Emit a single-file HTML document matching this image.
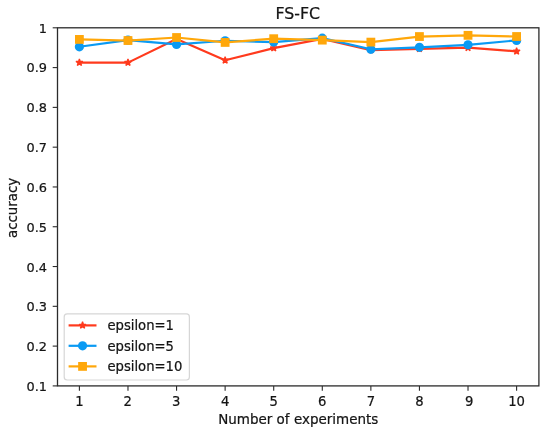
<!DOCTYPE html>
<html><head><meta charset="utf-8"><title>FS-FC</title>
<style>
html,body{margin:0;padding:0;background:#fff}
svg{display:block}
text{font-family:"DejaVu Sans","Liberation Sans",sans-serif;fill:#141414;stroke:#141414;stroke-width:0.22px}
</style></head><body>
<svg width="550" height="436" viewBox="0 0 550 436">
<rect width="550" height="436" fill="#ffffff"/>

<line x1="79.40" x2="79.40" y1="385.9" y2="390.7" stroke="#2b2b2b" stroke-width="1.1"/>
<text x="79.40" y="406.4" font-size="13.2" text-anchor="middle">1</text>
<line x1="127.98" x2="127.98" y1="385.9" y2="390.7" stroke="#2b2b2b" stroke-width="1.1"/>
<text x="127.58" y="406.4" font-size="13.2" text-anchor="middle">2</text>
<line x1="176.56" x2="176.56" y1="385.9" y2="390.7" stroke="#2b2b2b" stroke-width="1.1"/>
<text x="176.16" y="406.4" font-size="13.2" text-anchor="middle">3</text>
<line x1="225.13" x2="225.13" y1="385.9" y2="390.7" stroke="#2b2b2b" stroke-width="1.1"/>
<text x="225.13" y="406.4" font-size="13.2" text-anchor="middle">4</text>
<line x1="273.71" x2="273.71" y1="385.9" y2="390.7" stroke="#2b2b2b" stroke-width="1.1"/>
<text x="273.71" y="406.4" font-size="13.2" text-anchor="middle">5</text>
<line x1="322.29" x2="322.29" y1="385.9" y2="390.7" stroke="#2b2b2b" stroke-width="1.1"/>
<text x="322.29" y="406.4" font-size="13.2" text-anchor="middle">6</text>
<line x1="370.87" x2="370.87" y1="385.9" y2="390.7" stroke="#2b2b2b" stroke-width="1.1"/>
<text x="370.87" y="406.4" font-size="13.2" text-anchor="middle">7</text>
<line x1="419.44" x2="419.44" y1="385.9" y2="390.7" stroke="#2b2b2b" stroke-width="1.1"/>
<text x="419.44" y="406.4" font-size="13.2" text-anchor="middle">8</text>
<line x1="468.02" x2="468.02" y1="385.9" y2="390.7" stroke="#2b2b2b" stroke-width="1.1"/>
<text x="469.22" y="406.4" font-size="13.2" text-anchor="middle">9</text>
<line x1="516.60" x2="516.60" y1="385.9" y2="390.7" stroke="#2b2b2b" stroke-width="1.1"/>
<text x="516.60" y="406.4" font-size="13.2" text-anchor="middle">10</text>
<line x1="52.7" x2="57.5" y1="385.90" y2="385.90" stroke="#2b2b2b" stroke-width="1.1"/>
<text x="47.0" y="391.10" font-size="12.9" text-anchor="end">0.1</text>
<line x1="52.7" x2="57.5" y1="346.11" y2="346.11" stroke="#2b2b2b" stroke-width="1.1"/>
<text x="47.0" y="351.27" font-size="12.9" text-anchor="end">0.2</text>
<line x1="52.7" x2="57.5" y1="306.32" y2="306.32" stroke="#2b2b2b" stroke-width="1.1"/>
<text x="47.0" y="311.44" font-size="12.9" text-anchor="end">0.3</text>
<line x1="52.7" x2="57.5" y1="266.53" y2="266.53" stroke="#2b2b2b" stroke-width="1.1"/>
<text x="47.0" y="271.62" font-size="12.9" text-anchor="end">0.4</text>
<line x1="52.7" x2="57.5" y1="226.74" y2="226.74" stroke="#2b2b2b" stroke-width="1.1"/>
<text x="47.0" y="231.79" font-size="12.9" text-anchor="end">0.5</text>
<line x1="52.7" x2="57.5" y1="186.96" y2="186.96" stroke="#2b2b2b" stroke-width="1.1"/>
<text x="47.0" y="191.96" font-size="12.9" text-anchor="end">0.6</text>
<line x1="52.7" x2="57.5" y1="147.17" y2="147.17" stroke="#2b2b2b" stroke-width="1.1"/>
<text x="47.0" y="152.13" font-size="12.9" text-anchor="end">0.7</text>
<line x1="52.7" x2="57.5" y1="107.38" y2="107.38" stroke="#2b2b2b" stroke-width="1.1"/>
<text x="47.0" y="112.31" font-size="12.9" text-anchor="end">0.8</text>
<line x1="52.7" x2="57.5" y1="67.59" y2="67.59" stroke="#2b2b2b" stroke-width="1.1"/>
<text x="47.0" y="72.48" font-size="12.9" text-anchor="end">0.9</text>
<line x1="52.7" x2="57.5" y1="27.80" y2="27.80" stroke="#2b2b2b" stroke-width="1.1"/>
<text x="47.0" y="32.65" font-size="12.9" text-anchor="end">1</text>
<polyline points="79.40,62.62 127.98,62.62 176.56,38.94 225.13,60.23 273.71,48.09 322.29,38.94 370.87,50.08 419.44,48.89 468.02,47.69 516.60,51.28" fill="none" stroke="#ff3a1d" stroke-width="2.2" stroke-linejoin="round"/>
<polygon points="79.40,59.02 80.21,61.50 82.82,61.50 80.71,63.04 81.52,65.53 79.40,63.99 77.28,65.53 78.09,63.04 75.98,61.50 78.59,61.50" fill="#ff3a1d" stroke="#ff3a1d" stroke-width="1.3" stroke-linejoin="bevel"/>
<polygon points="127.98,59.02 128.79,61.50 131.40,61.50 129.29,63.04 130.09,65.53 127.98,63.99 125.86,65.53 126.67,63.04 124.55,61.50 127.17,61.50" fill="#ff3a1d" stroke="#ff3a1d" stroke-width="1.3" stroke-linejoin="bevel"/>
<polygon points="176.56,35.34 177.36,37.83 179.98,37.83 177.86,39.37 178.67,41.85 176.56,40.32 174.44,41.85 175.25,39.37 173.13,37.83 175.75,37.83" fill="#ff3a1d" stroke="#ff3a1d" stroke-width="1.3" stroke-linejoin="bevel"/>
<polygon points="225.13,56.63 225.94,59.12 228.56,59.12 226.44,60.65 227.25,63.14 225.13,61.60 223.02,63.14 223.83,60.65 221.71,59.12 224.33,59.12" fill="#ff3a1d" stroke="#ff3a1d" stroke-width="1.3" stroke-linejoin="bevel"/>
<polygon points="273.71,44.49 274.52,46.98 277.13,46.98 275.02,48.52 275.83,51.00 273.71,49.47 271.60,51.00 272.40,48.52 270.29,46.98 272.90,46.98" fill="#ff3a1d" stroke="#ff3a1d" stroke-width="1.3" stroke-linejoin="bevel"/>
<polygon points="322.29,35.34 323.10,37.83 325.71,37.83 323.60,39.37 324.40,41.85 322.29,40.32 320.17,41.85 320.98,39.37 318.87,37.83 321.48,37.83" fill="#ff3a1d" stroke="#ff3a1d" stroke-width="1.3" stroke-linejoin="bevel"/>
<polygon points="370.87,46.48 371.67,48.97 374.29,48.97 372.17,50.51 372.98,52.99 370.87,51.46 368.75,52.99 369.56,50.51 367.44,48.97 370.06,48.97" fill="#ff3a1d" stroke="#ff3a1d" stroke-width="1.3" stroke-linejoin="bevel"/>
<polygon points="419.44,45.29 420.25,47.78 422.87,47.78 420.75,49.31 421.56,51.80 419.44,50.26 417.33,51.80 418.14,49.31 416.02,47.78 418.64,47.78" fill="#ff3a1d" stroke="#ff3a1d" stroke-width="1.3" stroke-linejoin="bevel"/>
<polygon points="468.02,44.09 468.83,46.58 471.45,46.58 469.33,48.12 470.14,50.61 468.02,49.07 465.91,50.61 466.71,48.12 464.60,46.58 467.21,46.58" fill="#ff3a1d" stroke="#ff3a1d" stroke-width="1.3" stroke-linejoin="bevel"/>
<polygon points="516.60,47.68 517.41,50.16 520.02,50.16 517.91,51.70 518.72,54.19 516.60,52.65 514.48,54.19 515.29,51.70 513.18,50.16 515.79,50.16" fill="#ff3a1d" stroke="#ff3a1d" stroke-width="1.3" stroke-linejoin="bevel"/>

<polyline points="79.40,46.78 127.98,40.21 176.56,44.39 225.13,40.73 273.71,42.12 322.29,38.15 370.87,49.29 419.44,47.30 468.02,44.83 516.60,40.41" fill="none" stroke="#0a9af3" stroke-width="2.2" stroke-linejoin="round"/>
<circle cx="79.40" cy="46.78" r="4.6000000000000005" fill="#0a9af3"/>
<circle cx="127.98" cy="40.21" r="4.6000000000000005" fill="#0a9af3"/>
<circle cx="176.56" cy="44.39" r="4.6000000000000005" fill="#0a9af3"/>
<circle cx="225.13" cy="40.73" r="4.6000000000000005" fill="#0a9af3"/>
<circle cx="273.71" cy="42.12" r="4.6000000000000005" fill="#0a9af3"/>
<circle cx="322.29" cy="38.15" r="4.6000000000000005" fill="#0a9af3"/>
<circle cx="370.87" cy="49.29" r="4.6000000000000005" fill="#0a9af3"/>
<circle cx="419.44" cy="47.30" r="4.6000000000000005" fill="#0a9af3"/>
<circle cx="468.02" cy="44.83" r="4.6000000000000005" fill="#0a9af3"/>
<circle cx="516.60" cy="40.41" r="4.6000000000000005" fill="#0a9af3"/>

<polyline points="79.40,39.42 127.98,40.53 176.56,37.51 225.13,42.44 273.71,38.70 322.29,40.13 370.87,42.12 419.44,36.55 468.02,35.32 516.60,36.51" fill="none" stroke="#ffa70a" stroke-width="2.2" stroke-linejoin="round"/>
<rect x="75.00" y="35.02" width="8.8" height="8.8" fill="#ffa70a"/>
<rect x="123.58" y="36.13" width="8.8" height="8.8" fill="#ffa70a"/>
<rect x="172.16" y="33.11" width="8.8" height="8.8" fill="#ffa70a"/>
<rect x="220.73" y="38.04" width="8.8" height="8.8" fill="#ffa70a"/>
<rect x="269.31" y="34.30" width="8.8" height="8.8" fill="#ffa70a"/>
<rect x="317.89" y="35.73" width="8.8" height="8.8" fill="#ffa70a"/>
<rect x="366.47" y="37.72" width="8.8" height="8.8" fill="#ffa70a"/>
<rect x="415.04" y="32.15" width="8.8" height="8.8" fill="#ffa70a"/>
<rect x="463.62" y="30.92" width="8.8" height="8.8" fill="#ffa70a"/>
<rect x="512.20" y="32.11" width="8.8" height="8.8" fill="#ffa70a"/>

<rect x="57.5" y="27.8" width="481.4" height="358.09999999999997" fill="none" stroke="#2b2b2b" stroke-width="1.3"/>
<text transform="translate(297.7,18.5) scale(1.03,1)" font-size="15.3" text-anchor="middle">FS-FC</text>
<text x="298.25" y="424.3" font-size="13.47" text-anchor="middle">Number of experiments</text>
<text transform="translate(17.3,207.9) rotate(-90)" font-size="13.35" text-anchor="middle">accuracy</text>
<rect x="64.2" y="313.9" width="125.2" height="66.1" rx="3" ry="3" fill="#ffffff" fill-opacity="0.8" stroke="#cccccc" stroke-opacity="0.8" stroke-width="1.2"/>
<line x1="68.6" x2="96.5" y1="325.4" y2="325.4" stroke="#ff3a1d" stroke-width="2.2"/>
<polygon points="82.55,321.80 83.36,324.29 85.97,324.29 83.86,325.82 84.67,328.31 82.55,326.78 80.43,328.31 81.24,325.82 79.13,324.29 81.74,324.29" fill="#ff3a1d" stroke="#ff3a1d" stroke-width="1.3" stroke-linejoin="bevel"/>
<text x="107.4" y="330.2" font-size="13.2">epsilon=1</text>
<line x1="68.6" x2="96.5" y1="345.8" y2="345.8" stroke="#0a9af3" stroke-width="2.2"/>
<circle cx="82.55" cy="345.80" r="4.6000000000000005" fill="#0a9af3"/>
<text x="107.4" y="350.6" font-size="13.2">epsilon=5</text>
<line x1="68.6" x2="96.5" y1="366.4" y2="366.4" stroke="#ffa70a" stroke-width="2.2"/>
<rect x="78.15" y="362.00" width="8.8" height="8.8" fill="#ffa70a"/>
<text x="107.4" y="371.2" font-size="13.2">epsilon=10</text>
</svg></body></html>
